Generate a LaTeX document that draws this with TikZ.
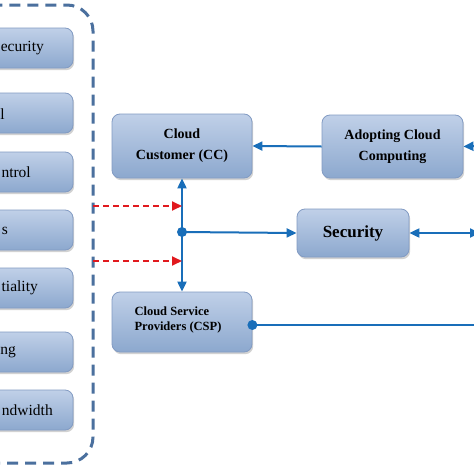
\documentclass[tikz,border=0pt]{standalone}
\usepackage{fontspec}
\setmainfont{Liberation Serif}
\usetikzlibrary{arrows.meta,shadows}
\definecolor{boxtop}{RGB}{192,208,232}
\definecolor{boxmid}{RGB}{242,246,252}
\definecolor{boxbot}{RGB}{140,168,206}
\definecolor{boxedge}{RGB}{130,155,195}
\definecolor{conblue}{RGB}{25,110,185}
\definecolor{dashblue}{RGB}{75,112,158}
\definecolor{dashred}{RGB}{225,25,30}
\tikzset{
  box/.style={draw=boxedge, line width=0.8pt, rounded corners=8pt,
    top color=boxtop, middle color=boxmid, bottom color=boxbot, inner sep=0pt,
    drop shadow={opacity=0.35, shadow xshift=1.2pt, shadow yshift=-2.2pt}},
  lbox/.style={box, minimum width=133pt, minimum height=40pt},
  ltext/.style={anchor=east, inner sep=0pt, font=\fontsize{15.5}{18}\selectfont},
  btext/.style={font=\fontsize{14}{18}\selectfont\bfseries, align=center},
  conn/.style={draw=conblue, line width=2pt},
  arr/.style={conn, -{Triangle[length=10pt,width=9pt]}},
  redarr/.style={draw=dashred, line width=1.8pt, dash pattern=on 6pt off 4pt,
    -{Triangle[length=10pt,width=9pt,fill=dashred]}},
  dot/.style={circle, fill=conblue, inner sep=0pt, minimum size=10pt}
}
\begin{document}
\begin{tikzpicture}[x=1pt,y=-1pt]
\useasboundingbox (0,0) rectangle (474,474);
\clip (0,0) rectangle (474,474);
\fill[white] (0,0) rectangle (474,474);
% dashed frame
\draw[dashblue, line width=3pt, dash pattern=on 11pt off 7pt, rounded corners=26pt]
  (-40,5) rectangle (93,463);
% left boxes
\node[lbox] (lb1) at (6.5,48) {};
\node[lbox] (lb2) at (6.5,113) {};
\node[lbox] (lb3) at (6.5,172) {};
\node[lbox] (lb4) at (6.5,230) {};
\node[lbox] (lb5) at (6.5,288) {};
\node[lbox] (lb6) at (6.5,352) {};
\node[lbox] (lb7) at (6.5,410) {};
\node[ltext] (t1) at (44,48) {ecurity};
\node[ltext] (t2) at (5,114) {l};
\node[ltext] (t3) at (31,172) {ntrol};
\node[ltext] (t4) at (8,231) {s};
\node[ltext] (t5) at (38,288) {tiality};
\node[ltext] (t6) at (16,352) {ng};
\node[ltext] (t7) at (53,410) {ndwidth};
% main boxes
\node[box, minimum width=140pt, minimum height=64pt, btext] (CC) at (182,146) {Cloud\\[3pt]Customer (CC)};
\node[box, minimum width=141pt, minimum height=63pt, btext] (AC) at (392.5,146.5) {Adopting Cloud\\[3pt]Computing};
\node[box, minimum width=112pt, minimum height=48pt, font=\fontsize{17}{20}\selectfont\bfseries] (SEC) at (353,233) {Security};
\node[box, minimum width=140pt, minimum height=60pt] (CSP) at (182,322) {};
\node[font=\fontsize{12.5}{15}\selectfont\bfseries, align=left] (CSPt) at (178,320) {Cloud Service\\Providers (CSP)};
% junction and connectors
\coordinate (J) at (182,232);
\coordinate (R0) at (482,146);
\coordinate (R1) at (480,233);
\coordinate (R2) at (482,325);
\coordinate (D1) at (93,206);
\coordinate (D2) at (93,261);
\draw[arr] (J) -- (CC.south);
\draw[arr] (J) -- (CSP.north);
\draw[arr] (J) -- (SEC.west);
\draw[arr] (AC.west) -- (CC.east);
\draw[arr] (R0) -- (AC.east);
\draw[conn, {Triangle[length=10pt,width=9pt]}-{Triangle[length=10pt,width=9pt]}] (SEC.east) -- (R1);
\draw[conn] (CSP.east |- R2) -- (R2);
\node[dot] (Jd) at (J) {};
\node[dot] (Cd) at (CSP.east |- R2) {};
\draw[redarr] (D1) -- (D1 -| J);
\draw[redarr] (D2) -- (D2 -| J);
\end{tikzpicture}
\end{document}
